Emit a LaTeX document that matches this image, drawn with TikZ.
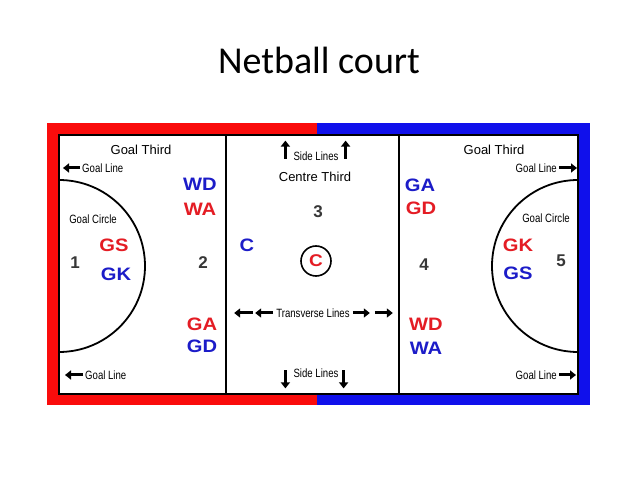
\documentclass[tikz,border=0pt]{standalone}
\usepackage{fontspec}
\setmainfont{Liberation Sans}
\newfontfamily\titlefont{Carlito}
\newfontfamily\narrowfont[FakeStretch=0.8]{Liberation Sans}
\newfontfamily\posfont[FakeStretch=1.12]{Liberation Sans}
\usetikzlibrary{arrows.meta}
\definecolor{bandred}{RGB}{250,12,12}
\definecolor{bandblue}{RGB}{16,16,235}
\definecolor{posred}{RGB}{228,28,36}
\definecolor{posblue}{RGB}{28,28,200}
\definecolor{numgray}{RGB}{55,55,55}

\begin{document}
\begin{tikzpicture}[x=1pt, y=-1pt,
	court/.style={black, line width=1.4pt},
	third/.style={font=\fontsize{13}{13}\selectfont, inner sep=0pt},
	note/.style={font=\narrowfont\fontsize{12}{12}\selectfont, inner sep=0pt},
	player/.style={font=\posfont\bfseries\fontsize{18}{18}\selectfont, inner sep=0pt},
	num/.style={text=numgray, font=\bfseries\fontsize{17}{17}\selectfont, inner sep=0pt},
	ptr/.style={line width=3pt, -{Triangle[length=6pt, width=9pt]}}]
	\useasboundingbox (0,0) rectangle (638,478);
	\node[font=\titlefont\fontsize{38}{38}\selectfont] (title) at (319,60) {Netball court};

	% coloured border and court
	\fill[bandred] (47,123) rectangle (317,405);
	\fill[bandblue] (317,123) rectangle (590,405);
	\draw[court, fill=white] (59,135) rectangle (578,394);
	\draw[court] (226,135) -- (226,394);
	\draw[court] (399,135) -- (399,394);
	\begin{scope}
		\clip (59,135) rectangle (578,394);
		\draw[court, line width=1.8pt] (59,266) circle[radius=86];
		\draw[court, line width=1.8pt] (578,266) circle[radius=86];
	\end{scope}
	\node[draw=black, circle, line width=1.6pt, minimum size=30pt, inner sep=0pt,
		text=posred, font=\posfont\bfseries\fontsize{17}{17}\selectfont] (centre) at (316,261) {C};

	% labels
	\node[third] (thirdL) at (141,150) {Goal Third};
	\node[third] (thirdC) at (315,177) {Centre Third};
	\node[third] (thirdR) at (494,150) {Goal Third};
	\node[note] (circleL) at (93,219) {Goal Circle};
	\node[note] (circleR) at (546,218) {Goal Circle};

	\node[note, anchor=west] (lineTL) at (82,168) {Goal Line};
	\node[note, anchor=west] (lineBL) at (85,375) {Goal Line};
	\node[note, anchor=east] (lineTR) at (557,168) {Goal Line};
	\node[note, anchor=east] (lineBR) at (557,375) {Goal Line};
	\draw[ptr] ([xshift=-2pt]lineTL.west) -- ++(-17,0);
	\draw[ptr] ([xshift=-2pt]lineBL.west) -- ++(-18,0);
	\draw[ptr] ([xshift=2pt]lineTR.east) -- ++(18,0);
	\draw[ptr] ([xshift=2pt]lineBR.east) -- ++(17,0);

	\node[note] (sideT) at (316,156) {Side Lines};
	\node[note] (sideB) at (316,373) {Side Lines};
	\draw[ptr] ([xshift=-8pt, yshift=2pt]sideT.south west) -- ++(0,-18);
	\draw[ptr] ([xshift=7pt, yshift=2pt]sideT.south east) -- ++(0,-18);
	\draw[ptr] ([xshift=-8pt, yshift=-2pt]sideB.north west) -- ++(0,18);
	\draw[ptr] ([xshift=5pt, yshift=-2pt]sideB.north east) -- ++(0,18);

	\node[note] (trans) at (313,313) {Transverse Lines};
	\draw[ptr] ([xshift=-3pt]trans.west) -- ++(-18,0);
	\draw[ptr] ([xshift=-23pt]trans.west) -- ++(-19,0);
	\draw[ptr] ([xshift=3pt]trans.east) -- ++(17,0);
	\draw[ptr] ([xshift=25pt]trans.east) -- ++(18,0);

	% players
	\foreach \x/\y/\col/\txt/\nm in {114/245/posred/GS/gsL, 116/274/posblue/GK/gkL,
		200/184/posblue/WD/wdL, 200/209/posred/WA/waL, 202/324/posred/GA/gaL, 202/346/posblue/GD/gdL,
		247/245/posblue/C/cC,
		420/185/posblue/GA/gaR, 421/208/posred/GD/gdR, 426/324/posred/WD/wdR, 426/348/posblue/WA/waR,
		518/245/posred/GK/gkR, 518/273/posblue/GS/gsR}
		\node[player, text=\col] (\nm) at (\x,\y) {\txt};
	\foreach \x/\y/\txt in {75/263/1, 203/263/2, 318/212/3, 424/265/4, 561/261/5}
		\node[num] (n\txt) at (\x,\y) {\txt};
\end{tikzpicture}
\end{document}
